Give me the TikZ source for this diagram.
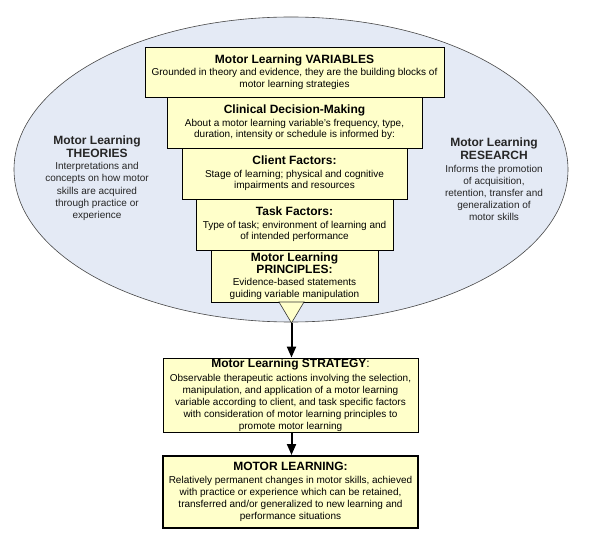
\documentclass[tikz,border=0pt]{standalone}
\usepackage{fontspec}
\setmainfont{Liberation Sans}
\usetikzlibrary{shapes.geometric,arrows.meta}
\definecolor{boxfill}{RGB}{255,255,202}
\definecolor{fieldfill}{RGB}{228,234,245}
\definecolor{fieldline}{RGB}{70,70,70}
\tikzset{
  pbox/.style={draw=black, line width=0.8pt, fill=boxfill, align=center, inner sep=0pt,
    font=\fontsize{10}{11.5}\selectfont},
  lowbox/.style={pbox, font=\fontsize{10}{12}\selectfont},
  sidetext/.style={align=center, inner sep=0pt, font=\fontsize{10}{12.2}\selectfont, text=black!85},
  flow/.style={line width=2pt, -{Triangle[length=11pt,width=9pt]}},
}
\newcommand{\ttl}[1]{{\bfseries\fontsize{12}{14}\selectfont #1}}
\begin{document}
\begin{tikzpicture}[x=1pt,y=-1pt]
\useasboundingbox (0,0) rectangle (589,553);
\fill[white] (0,0) rectangle (589,553);
% background field
\node[ellipse, draw=fieldline, line width=0.6pt, fill=fieldfill, inner sep=0pt,
  minimum width=554pt, minimum height=305pt] (field) at (291,169.5) {};
% side texts
\node[sidetext] (theories) at (97,178) {\ttl{Motor Learning}\\[1pt]\ttl{THEORIES}\\Interpretations and\\concepts on how motor\\skills are acquired\\through practice or\\experience};
\node[sidetext] (research) at (494,179.5) {\ttl{Motor Learning}\\[1pt]\ttl{RESEARCH}\\Informs the promotion\\of acquisition,\\retention, transfer and\\generalization of\\motor skills};
% stacked boxes
\node[pbox, minimum width=299pt, minimum height=50pt] (var) at (294.5,72)
  {\ttl{Motor Learning VARIABLES}\\[1pt]Grounded in theory and evidence, they are the building blocks of\\motor learning strategies};
\node[pbox, minimum width=255pt, minimum height=51pt] (cdm) at (294.5,122.5)
  {\ttl{Clinical Decision-Making}\\[1pt]About a motor learning variable's frequency, type,\\duration, intensity or schedule is informed by:};
\node[pbox, minimum width=225pt, minimum height=51pt] (client) at (294.5,173.5)
  {\ttl{Client Factors:}\\[1pt]Stage of learning; physical and cognitive\\impairments and resources};
\node[pbox, minimum width=197pt, minimum height=51pt] (task) at (294.5,224.5)
  {\ttl{Task Factors:}\\[1pt]Type of task; environment of learning and\\of intended performance};
\node[pbox, minimum width=167pt, minimum height=52pt] (princ) at (294.5,276)
  {\ttl{Motor Learning}\\\ttl{PRINCIPLES:}\\[1pt]Evidence-based statements\\guiding variable manipulation};
% funnel triangle
\coordinate (tl) at (279,302);
\coordinate (tr) at (304,302);
\coordinate (tip) at (291.5,323);
\filldraw[draw=black!80, line width=0.6pt, fill=boxfill] (tl) -- (tr) -- (tip) -- cycle;
% lower boxes
\node[lowbox, minimum width=255pt, minimum height=74pt] (strat) at (290.5,395)
  {\ttl{Motor Learning STRATEGY}{\fontsize{12}{14}\selectfont :}\\[1.5pt]Observable therapeutic actions involving the selection,\\manipulation, and application of a motor learning\\variable according to client, and task specific factors\\with consideration of motor learning principles to\\promote motor learning};
\node[lowbox, line width=2pt, minimum width=255pt, minimum height=72pt] (ml) at (290.5,492)
  {\ttl{MOTOR LEARNING:}\\[1.5pt]Relatively permanent changes in motor skills, achieved\\with practice or experience which can be retained,\\transferred and/or generalized to new learning and\\performance situations};
% connectors
\draw[flow] (tip) -- (tip |- strat.north);
\draw[flow] (strat.south -| tip) -- (ml.north -| tip);
\end{tikzpicture}
\end{document}
